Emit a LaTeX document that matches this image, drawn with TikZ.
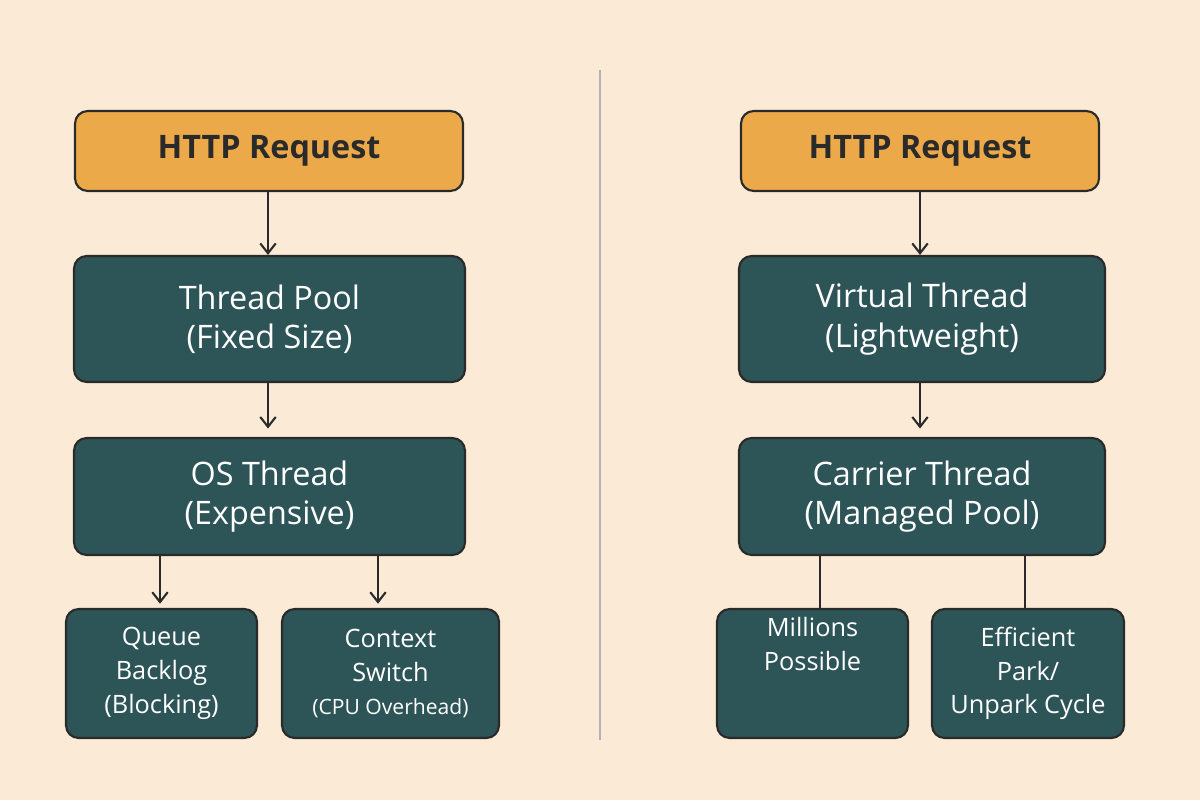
\documentclass[tikz,border=0pt]{standalone}
\usepackage{fontspec}
\setmainfont{Open Sans}
\usetikzlibrary{arrows.meta}
\definecolor{bg}{HTML}{FBEBD6}
\definecolor{orng}{HTML}{EBA94A}
\definecolor{teal}{HTML}{2D5457}
\definecolor{edge}{HTML}{2A2A2A}
\begin{document}
\begin{tikzpicture}[x=0.025cm,y=-0.025cm,
  box/.style={draw=edge,line width=1.5pt,rounded corners=9pt,fill=teal,text=white,align=center,font=\fontsize{23}{28}\selectfont},
  hbox/.style={box,fill=orange!0!orng,text=edge,font=\fontsize{23}{28}\selectfont\bfseries},
  sbox/.style={box,font=\fontsize{18}{24}\selectfont},
  arr/.style={-{Straight Barb[length=7pt,width=11pt]},line width=1.5pt,draw=edge}]
\fill[bg] (0,0) rectangle (1200,800);
\useasboundingbox (0,0) rectangle (1200,800);
\draw[gray!60,line width=1.2pt] (600,70) -- (600,740);
\newcommand\bx[6]{\node[#1,minimum width={(#4-#3)*0.025cm},minimum height={(#6-#5)*0.025cm},inner sep=0pt] (#2) at ({(#3+#4)/2},{(#5+#6)/2})}
\bx{hbox}{lh}{75}{463}{111}{191}{HTTP Request};
\bx{box}{lp}{74}{465}{256}{382}{Thread Pool\\(Fixed Size)};
\bx{box}{lo}{74}{465}{438}{555}{OS Thread\\(Expensive)};
\bx{sbox}{lq}{66}{257}{609}{738}{Queue\\Backlog\\(Blocking)};
\bx{sbox}{lc}{282}{499}{609}{738}{Context\\Switch\\{\fontsize{15}{24}\selectfont(CPU Overhead)}};
\bx{hbox}{rh}{741}{1099}{111}{191}{HTTP Request};
\bx{box}{rv}{739}{1105}{256}{382}{Virtual Thread\\(Lightweight)};
\bx{box}{rc}{739}{1105}{438}{555}{Carrier Thread\\(Managed Pool)};
\bx{sbox}{rm}{717}{908}{609}{738}{Millions\\Possible\\[1em]};
\bx{sbox}{re}{932}{1124}{609}{738}{Efficient\\Park/\\Unpark Cycle};
\draw[arr] (lh.south -| 268,0) -- (lp.north -| 268,0);
\draw[arr] (lp.south -| 268,0) -- ([yshift=6pt]lo.north -| 268,0);
\draw[arr] (lo.south -| 160,0) -- ([yshift=3pt]lq.north -| 160,0);
\draw[arr] (lo.south -| 378,0) -- ([yshift=3pt]lc.north -| 378,0);
\draw[arr] (rh.south -| 920,0) -- (rv.north -| 920,0);
\draw[arr] (rv.south -| 920,0) -- ([yshift=6pt]rc.north -| 920,0);
\draw[line width=1.5pt,edge] (rc.south -| 820,0) -- (rm.north -| 820,0);
\draw[line width=1.5pt,edge] (rc.south -| 1025,0) -- (re.north -| 1025,0);
\end{tikzpicture}
\end{document}
